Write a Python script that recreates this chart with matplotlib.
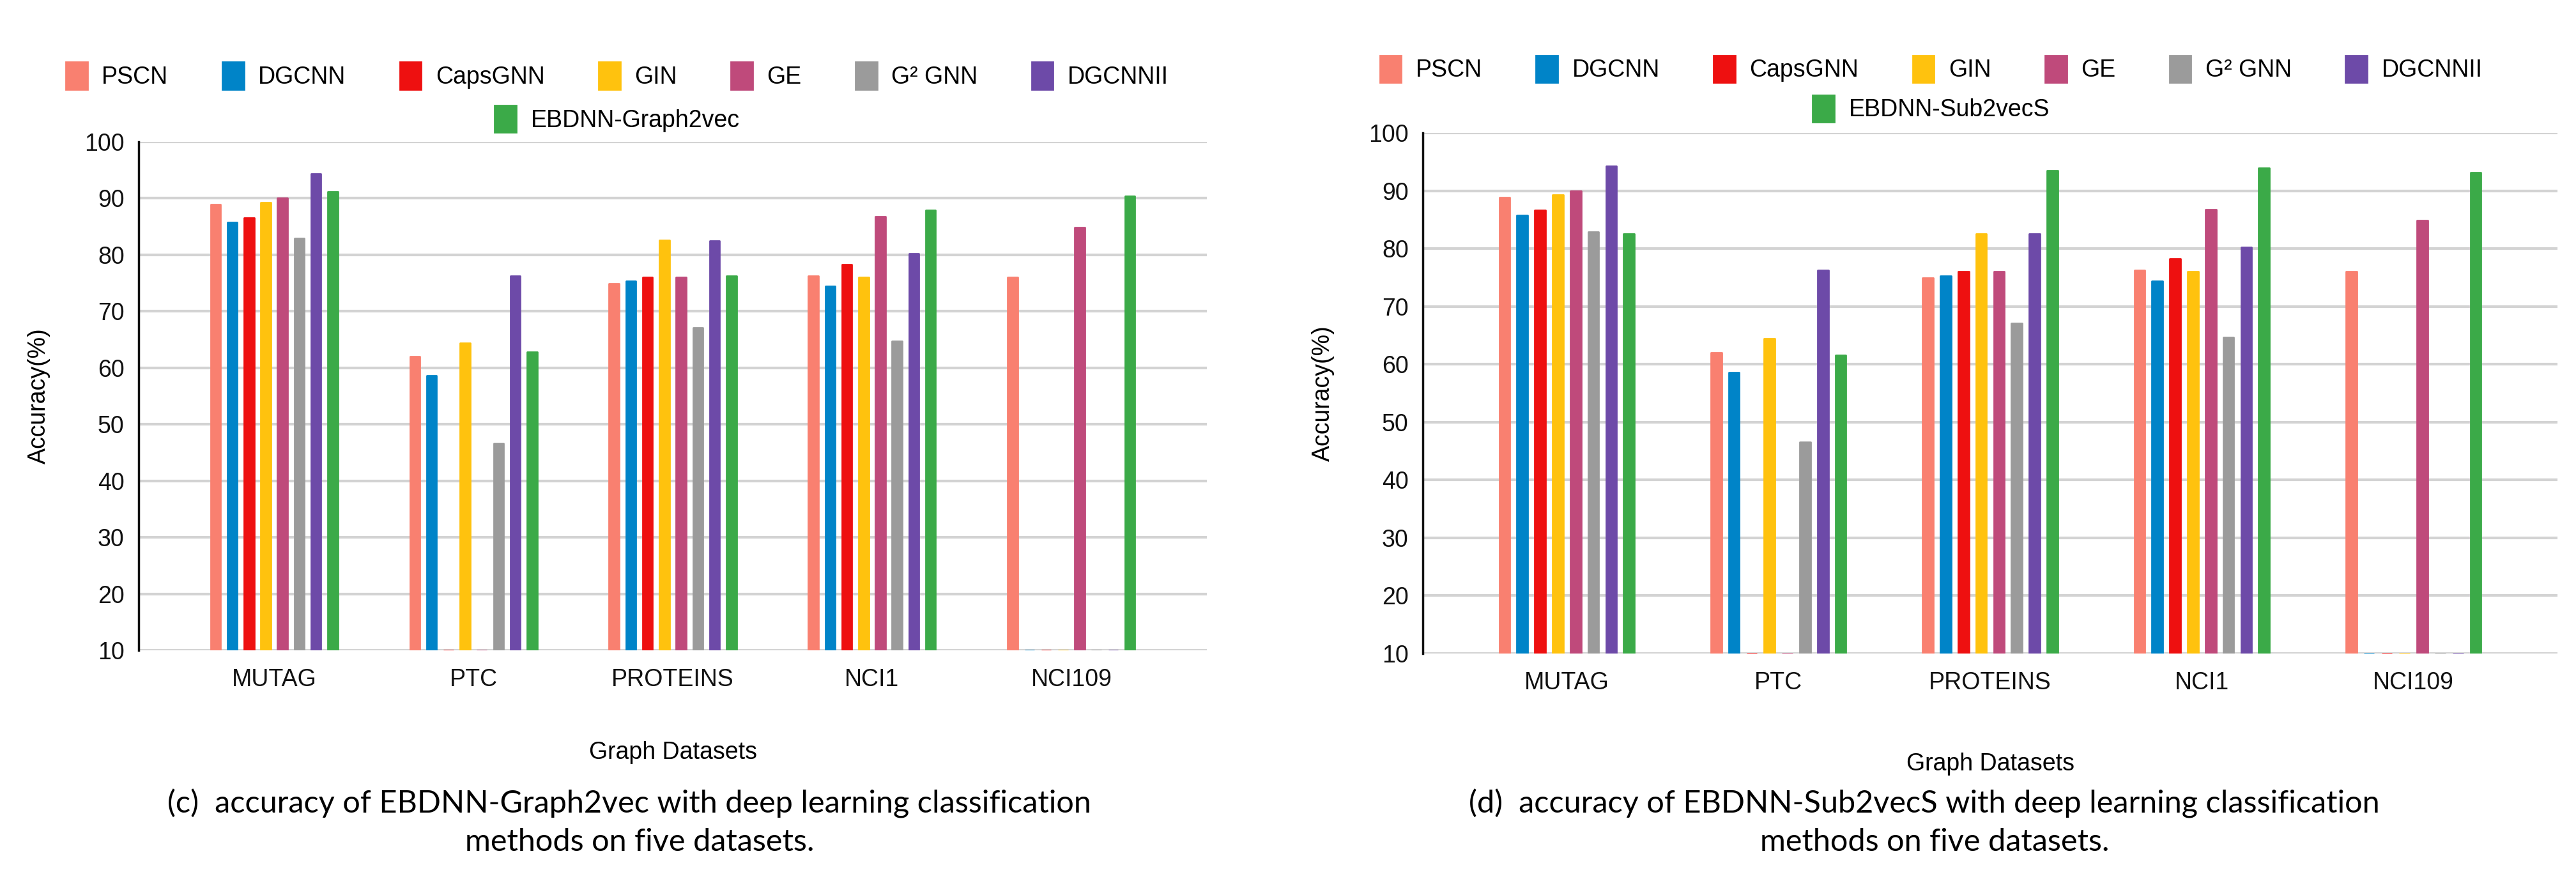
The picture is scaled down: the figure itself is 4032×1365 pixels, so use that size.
import numpy as np
import matplotlib.pyplot as plt

# datos
datasets = ['MUTAG', 'PTC', 'PROTEINS', 'NCI1', 'NCI109']
methods = ['PSCN', 'DGCNN', 'CapsGNN', 'GIN', 'GE', 'G² GNN', 'DGCNNII']
nan = np.nan

pscn = [88.9, 62.0, 74.9, 76.3, 76.0]
dgcnn = [85.8, 58.6, 75.3, 74.4, nan]
capsgnn = [86.6, nan, 76.0, 78.3, nan]
gin = [89.3, 64.4, 82.6, 76.0, nan]
ge = [90.0, nan, 76.0, 86.8, 84.9]
g2gnn = [82.9, 46.6, 67.1, 64.7, nan]
dgcnnii = [94.3, 76.3, 82.5, 80.2, nan]
baselines = [pscn, dgcnn, capsgnn, gin, ge, g2gnn, dgcnnii]

ebdnn_graph2vec = [91.2, 62.8, 76.3, 87.9, 90.4]
ebdnn_sub2vecs = [82.5, 61.6, 93.5, 93.9, 93.1]

colors = ['#F98070', '#0084C8', '#EE1010', '#FFC20E', '#BF4A7B', '#9B9B9B', '#6D4AA8', '#3BAA48']
yticks = [10, 20, 30, 40, 50, 60, 70, 80, 90, 100]

plt.rcParams['font.family'] = ['Liberation Sans', 'DejaVu Sans']

fig = plt.figure(figsize=(40.32, 13.65), dpi=100)


def draw_panel(rect, ours, ours_name, caption_lines, cap_x, leg_y, xlabelpad):
    ax = fig.add_axes(rect)
    x = np.arange(len(datasets))
    series = baselines + [ours]
    names = methods + [ours_name]
    pitch = 0.084
    width = 0.05
    handles = []
    for i, (vals, name) in enumerate(zip(series, names)):
        vals = np.array(vals, dtype=float)
        heights = np.nan_to_num(vals - 10, nan=0.0)
        off = (i - 3.5) * pitch
        b = ax.bar(x + off, heights, width, bottom=10, color=colors[i],
                   edgecolor=colors[i], linewidth=2, joinstyle='round',
                   label=name, zorder=3)
        handles.append(b)

    ax.set_ylim(10, 100)
    ax.set_xlim(-0.68, 4.68)
    ax.set_yticks(yticks)
    ax.set_xticks(x)
    ax.set_xticklabels(datasets)
    ax.yaxis.grid(True, color='#D3D3D3', linewidth=3)
    ax.set_axisbelow(True)
    for s in ['top', 'right', 'bottom']:
        ax.spines[s].set_visible(False)
    ax.spines['left'].set_linewidth(2.5)
    ax.spines['left'].set_color('#111111')
    ax.tick_params(axis='both', length=0, labelsize=27, colors='#111111')
    ax.tick_params(axis='y', pad=16)
    ax.tick_params(axis='x', pad=20)
    ax.set_ylabel('Accuracy(%)', fontsize=27, labelpad=38)
    ax.set_xlabel('Graph Datasets', fontsize=27, labelpad=xlabelpad)

    leg_kw = dict(frameon=False, fontsize=27, handlelength=0.9, handleheight=1.35,
                  handletextpad=0.6, columnspacing=2.25, borderaxespad=0)
    l1 = ax.legend(handles[:7], names[:7], ncol=7, loc='center',
                   bbox_to_anchor=(0.448, leg_y[0]), **leg_kw)
    ax.add_artist(l1)
    ax.legend(handles[7:], names[7:], ncol=1, loc='center',
              bbox_to_anchor=(0.448, leg_y[1]), **leg_kw)

    cap_font = ['Lato', 'DejaVu Sans']
    fig.text(cap_x, 1 - 1258 / 1365, caption_lines[0], ha='center', va='center',
             fontsize=35, family=cap_font)
    fig.text(cap_x + 0.004, 1 - 1318 / 1365, caption_lines[1], ha='center', va='center',
             fontsize=35, family=cap_font)
    return ax


draw_panel([217 / 4032, 347 / 1365, 1672 / 4032, 796 / 1365],
           ebdnn_graph2vec, 'EBDNN-Graph2vec',
           ['(c)  accuracy of EBDNN-Graph2vec with deep learning classification',
            'methods on five datasets.'],
           985 / 4032, (1.13, 1.045), 56)

draw_panel([2227 / 4032, 342 / 1365, 1776 / 4032, 815 / 1365],
           ebdnn_sub2vecs, 'EBDNN-Sub2vecS',
           ['(d)  accuracy of EBDNN-Sub2vecS with deep learning classification',
            'methods on five datasets.'],
           3012 / 4032, (1.123, 1.047), 66)

fig.savefig('out.png', dpi=100, facecolor='white')
